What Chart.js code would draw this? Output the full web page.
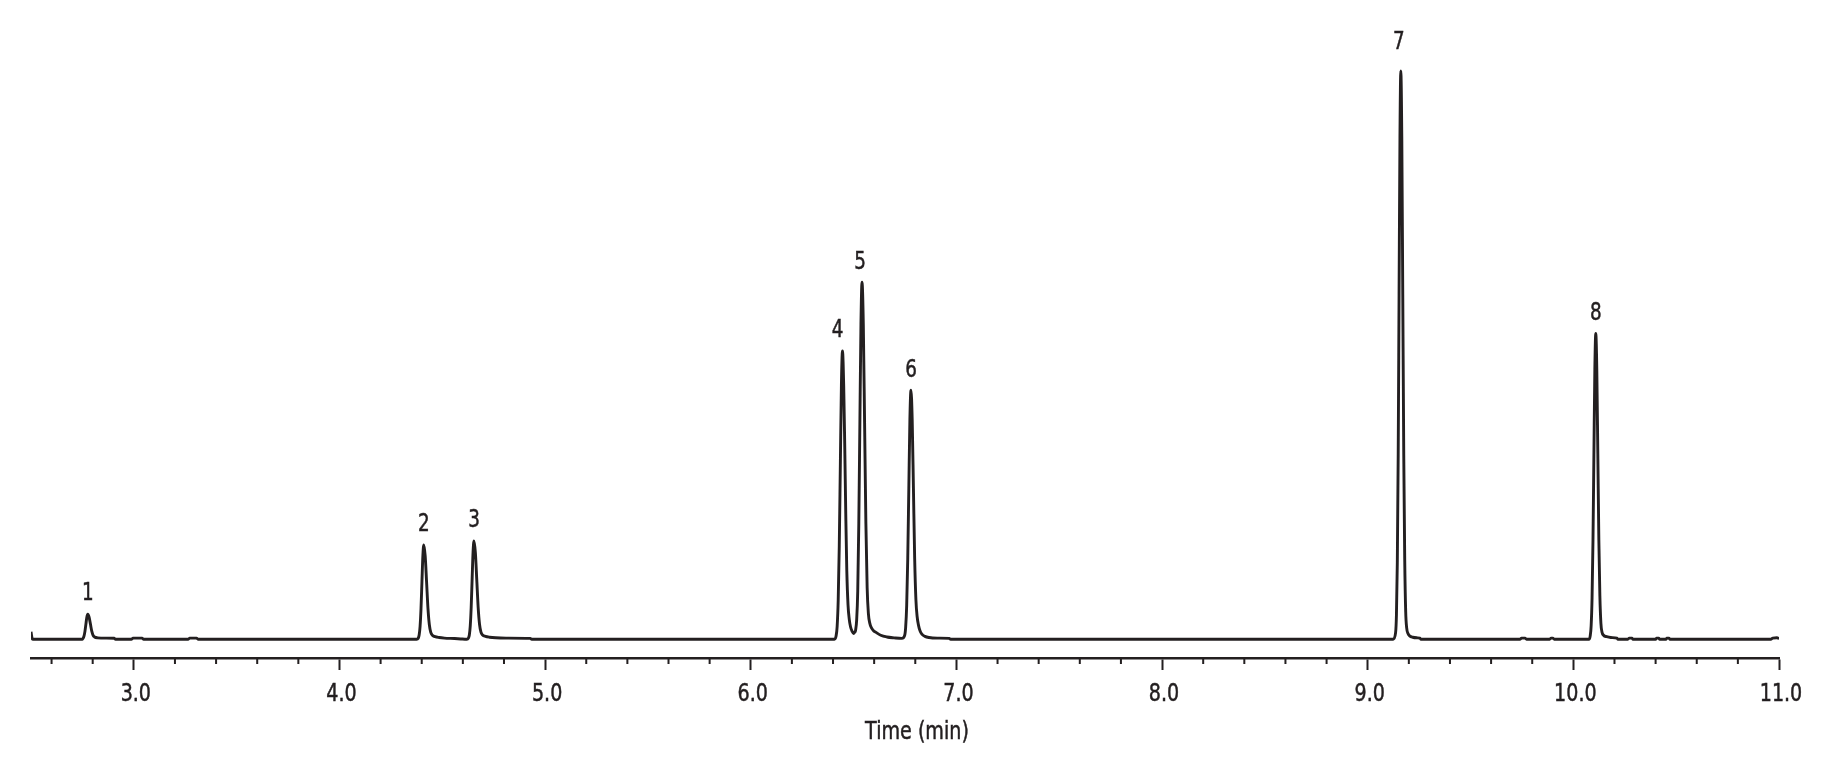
<!DOCTYPE html>
<html>
<head>
<meta charset="utf-8">
<title>Chromatogram</title>
<script src="https://cdn.jsdelivr.net/npm/chart.js@4.4.1/dist/chart.umd.min.js"></script>
<style>
  html, body { margin: 0; padding: 0; background: #fff; }
  #wrap { width: 1831px; height: 777px; }
</style>
</head>
<body>
<div id="wrap"><canvas id="chrom" width="1831" height="777"></canvas></div>
<script>
// retention time (min) and detector signal (peak 7 = 100)
const traceTime = [
  2.500, 2.506, 2.510, 2.749,
  // peak 1
  2.758, 2.7625, 2.767, 2.7715, 2.776, 2.7825, 2.789, 2.7955, 2.802, 2.809, 2.824, 2.864, 2.904, 2.911,
  2.988, 2.996, 3.040, 3.048, 3.265, 3.272, 3.305, 3.312, 4.375,
  // peak 2
  4.383, 4.3875, 4.392, 4.3965, 4.401, 4.4055, 4.410, 4.4168, 4.4236, 4.4304, 4.4372, 4.444, 4.452,
  4.465, 4.485, 4.510, 4.560, 4.590, 4.619,
  // peak 3
  4.627, 4.6315, 4.636, 4.6405, 4.645, 4.6495, 4.654, 4.6608, 4.6676, 4.6744, 4.6812, 4.688, 4.696,
  4.710, 4.730, 4.760, 4.810, 4.928, 4.935, 6.407,
  // peaks 4, 5, 6
  6.4148, 6.420, 6.4252, 6.4304, 6.4356, 6.4408, 6.446, 6.452, 6.457, 6.462, 6.467, 6.473, 6.479,
  6.485, 6.493, 6.500, 6.5046, 6.5098, 6.515, 6.5202, 6.5254, 6.5306, 6.5358, 6.541, 6.5473, 6.5535,
  6.5598, 6.566, 6.572, 6.579, 6.587, 6.597, 6.607, 6.632, 6.662, 6.697, 6.735,
  6.7478, 6.753, 6.7582, 6.7634, 6.7686, 6.7738, 6.779, 6.785, 6.791, 6.797, 6.803, 6.809, 6.816,
  6.823, 6.832, 6.847, 6.867, 6.907, 6.965, 6.972, 9.124,
  // peak 7
  9.1355, 9.1398, 9.144, 9.1483, 9.1525, 9.1568, 9.161, 9.1658, 9.1705, 9.1753, 9.180, 9.1848, 9.1895,
  9.196, 9.204, 9.219, 9.239, 9.254, 9.259,
  9.740, 9.748, 9.765, 9.772, 9.885, 9.892, 9.900, 9.907, 10.077,
  // peak 8
  10.082, 10.0865, 10.091, 10.0955, 10.100, 10.1045, 10.109, 10.114, 10.119, 10.124, 10.129, 10.134,
  10.139, 10.147, 10.162, 10.182, 10.212, 10.217,
  10.265, 10.272, 10.285, 10.290, 10.400, 10.405, 10.415, 10.420, 10.450, 10.455, 10.465, 10.470,
  10.960, 10.970, 10.990, 11.000
];
const traceSignal = [
  1.3, 0.1, 0, 0,
  0.6, 1.43, 2.67, 3.88, 4.4, 3.88, 2.67, 1.43, 0.7, 0.4, 0.25, 0.2, 0.18, 0,
  0, 0.2, 0.2, 0, 0, 0.2, 0.2, 0, 0,
  0.18, 0.73, 2.25, 5.39, 10.07, 14.65, 16.6, 14.65, 10.07, 5.39, 2.5, 1.2, 0.7,
  0.45, 0.3, 0.2, 0.12, 0.05, 0,
  0.19, 0.76, 2.34, 5.62, 10.49, 15.27, 17.3, 15.27, 10.49, 5.62, 2.6, 1.25, 0.75,
  0.5, 0.35, 0.25, 0.2, 0.15, 0, 0,
  0.56, 2.23, 6.86, 16.46, 30.75, 44.74, 50.7, 44.5, 34, 22, 12, 6, 3.5,
  2.2, 1.4, 1.0, 1.2, 1.6, 3.4, 8.5, 20.4, 38.1, 55.4, 62.8, 55.4, 38.1,
  20.4, 9.0, 4.5, 2.8, 2.0, 1.5, 1.25, 0.7, 0.4, 0.25, 0.15,
  0.6, 2.0, 5.93, 14.22, 26.56, 38.65, 43.8, 38.65, 26.56, 14.22, 7.0, 4.0, 2.4,
  1.5, 0.9, 0.5, 0.3, 0.2, 0.15, 0, 0,
  1.11, 4.39, 13.53, 32.47, 60.65, 88.25, 100, 88.25, 60.65, 32.47, 14, 4.8, 2.0,
  1.0, 0.6, 0.35, 0.25, 0.2, 0,
  0, 0.2, 0.2, 0, 0, 0.2, 0.2, 0, 0,
  0.6, 2.36, 7.28, 17.47, 32.63, 47.48, 53.8, 47.48, 32.63, 17.47, 7.6, 2.8,
  1.3, 0.7, 0.45, 0.3, 0.2, 0,
  0, 0.2, 0.2, 0, 0, 0.2, 0.2, 0, 0, 0.2, 0.2, 0,
  0, 0.2, 0.25, 0.1
];

// peak numbering
const peakLabels = ["1", "2", "3", "4", "5", "6", "7", "8"];
const peakTimes = [2.776, 4.410, 4.654, 6.446, 6.541, 6.779, 9.161, 10.109];
const peakHeights = [4.4, 16.6, 17.3, 50.7, 62.8, 43.8, 100, 53.8];

// axis ticks
const majorTicks = [3, 4, 5, 6, 7, 8, 9, 10, 11];
const minorTicks = [2.6, 2.8, 3.2, 3.4, 3.6, 3.8, 4.2, 4.4, 4.6, 4.8, 5.2, 5.4, 5.6, 5.8,
  6.2, 6.4, 6.6, 6.8, 7.2, 7.4, 7.6, 7.8, 8.2, 8.4, 8.6, 8.8, 9.2, 9.4, 9.6, 9.8,
  10.2, 10.4, 10.6, 10.8];

const ink = "#231f20";
const fontFamily = "'DejaVu Sans Condensed', 'DejaVu Sans', sans-serif";
const squeeze = 0.85; // the original uses a narrow face

// draw text a bit narrower and slightly heavier than the stock face
function narrowText(ctx, text, x, y, size) {
  ctx.save();
  ctx.font = size + "px " + fontFamily;
  ctx.fillStyle = ink;
  ctx.strokeStyle = ink;
  ctx.lineWidth = 0.5;
  ctx.textAlign = "center";
  ctx.textBaseline = "middle";
  ctx.translate(x, y);
  ctx.scale(squeeze, 1);
  ctx.fillText(text, 0, 0);
  ctx.strokeText(text, 0, 0);
  ctx.restore();
}

const peakLabelPlugin = {
  id: "peakLabels",
  afterDatasetsDraw(chart, args, opts) {
    const { ctx, scales } = chart;
    peakLabels.forEach((lab, i) => {
      const x = scales.x.getPixelForValue(peakTimes[i]) + (opts.dx[i] || 0);
      const y = scales.y.getPixelForValue(peakHeights[i]) - opts.gap[i];
      narrowText(ctx, lab, x, y, 24);
    });
  }
};

// short minor ticks, plus tick labels and axis title in the narrow face
const axisPlugin = {
  id: "axisText",
  afterDraw(chart) {
    const { ctx, chartArea } = chart;
    const xs = chart.scales.x;
    ctx.save();
    ctx.strokeStyle = ink;
    ctx.lineWidth = 2;
    ctx.beginPath();
    minorTicks.forEach((v) => {
      const x = xs.getPixelForValue(v);
      ctx.moveTo(x, chartArea.bottom);
      ctx.lineTo(x, chartArea.bottom + 6);
    });
    ctx.stroke();
    ctx.restore();

    majorTicks.forEach((v) => {
      narrowText(ctx, v.toFixed(1), xs.getPixelForValue(v) + 2, chartArea.bottom + 36, 25);
    });
    narrowText(ctx, "Time (min)", (chartArea.left + chartArea.right) / 2 + 12, chartArea.bottom + 74, 25);
  }
};

const ctx = document.getElementById("chrom").getContext("2d");

new Chart(ctx, {
  type: "line",
  data: {
    datasets: [
      {
        data: traceTime.map((t, i) => ({ x: t, y: traceSignal[i] })),
        borderColor: ink,
        borderWidth: 2.9,
        pointRadius: 0,
        fill: false,
        cubicInterpolationMode: "monotone",
      },
    ],
  },
  options: {
    responsive: false,
    animation: false,
    layout: {
      padding: { left: 31, right: 52, top: 14, bottom: 21 },
    },
    plugins: {
      legend: { display: false },
      tooltip: { enabled: false },
      peakLabels: {
        gap: [20, 20, 20, 20, 20, 20, 28, 20],
        dx: [0, 0, 0, -5, -2, 0, -2, 0],
      },
    },
    scales: {
      x: {
        type: "linear",
        min: 2.5,
        max: 11,
        afterBuildTicks: (scale) => {
          scale.ticks = majorTicks.map((v) => ({ value: v }));
        },
        grid: {
          drawOnChartArea: false,
          drawTicks: true,
          tickLength: 12,
          tickWidth: 2,
          tickColor: ink,
        },
        border: { display: true, color: ink, width: 2.5 },
        ticks: {
          // labels are painted by axisPlugin; these only reserve the room
          color: "rgba(0,0,0,0)",
          padding: 9,
          maxRotation: 0,
          autoSkip: false,
          font: { family: fontFamily, size: 25 },
          callback: (v) => Number(v).toFixed(1),
        },
        title: {
          display: true,
          text: "Time (min)",
          color: "rgba(0,0,0,0)",
          font: { family: fontFamily, size: 25 },
          padding: { top: 8, bottom: 0 },
        },
      },
      y: {
        display: false,
        min: -3.3,
        max: 110,
      },
    },
  },
  plugins: [peakLabelPlugin, axisPlugin],
});
</script>
</body>
</html>
